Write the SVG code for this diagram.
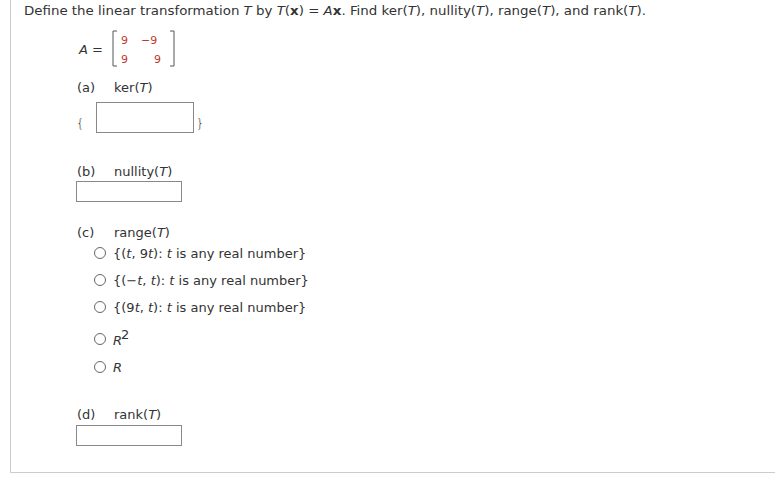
<svg xmlns="http://www.w3.org/2000/svg" width="775" height="493" viewBox="0 0 775 493">
<style>
text{font-family:"DejaVu Sans",Verdana,sans-serif;font-size:13px;fill:#333}
.i{font-style:italic}
.b{font-weight:bold}
.m{fill:#c0392b;font-size:11px}
.box{fill:#fff;stroke:#888;stroke-width:1}
.rad{fill:#fff;stroke:#666;stroke-width:1}
.br{fill:none;stroke:#555;stroke-width:1}
</style>
<rect width="775" height="493" fill="#fff"/>
<path d="M10.5 0V472.5H775" fill="none" stroke="#ccc"/>
<g id="header"><text x="24" y="15" textLength="622" lengthAdjust="spacingAndGlyphs">Define the linear transformation <tspan class="i">T</tspan> by <tspan class="i">T</tspan>(<tspan class="b">x</tspan>) = <tspan class="i">A</tspan><tspan class="b">x</tspan>. Find ker(<tspan class="i">T</tspan>), nullity(<tspan class="i">T</tspan>), range(<tspan class="i">T</tspan>), and rank(<tspan class="i">T</tspan>).</text></g>
<g id="matrix">
<text x="79" y="54" font-size="12"><tspan class="i">A</tspan> =</text>
<path class="br" d="M117 31H113V66H117M170 31H174V66H170"/>
<text class="m" x="121" y="44">9</text><text class="m" x="141" y="44">−9</text>
<text class="m" x="121" y="63">9</text><text class="m" x="154" y="63">9</text>
</g>
<g id="a">
<text x="77" y="92">(a)</text><text x="114" y="92">ker(<tspan class="i">T</tspan>)</text>
<text x="76" y="128" font-size="30" font-weight="200" fill="#555">{</text>
<rect class="box" x="96.5" y="102.5" width="97" height="30"/>
<text x="196" y="128" font-size="30" font-weight="200" fill="#555">}</text>
</g>
<g id="b">
<text x="77" y="176">(b)</text><text x="114" y="176">nullity(<tspan class="i">T</tspan>)</text>
<rect class="box" x="76.5" y="181.5" width="105" height="20"/>
</g>
<g id="c">
<text x="77" y="237">(c)</text><text x="114" y="237">range(<tspan class="i">T</tspan>)</text>
<circle class="rad" cx="100" cy="253" r="5.5"/><text x="113" y="258">{(<tspan class="i">t</tspan>, 9<tspan class="i">t</tspan>): <tspan class="i">t</tspan> is any real number}</text>
<circle class="rad" cx="100" cy="280" r="5.5"/><text x="113" y="285">{(−<tspan class="i">t</tspan>, <tspan class="i">t</tspan>): <tspan class="i">t</tspan> is any real number}</text>
<circle class="rad" cx="100" cy="307" r="5.5"/><text x="113" y="312">{(9<tspan class="i">t</tspan>, <tspan class="i">t</tspan>): <tspan class="i">t</tspan> is any real number}</text>
<circle class="rad" cx="100" cy="339" r="5.5"/><text x="113" y="345" class="i" font-size="12">R</text><text x="121" y="339" font-size="10">2</text>
<circle class="rad" cx="100" cy="367" r="5.5"/><text x="113" y="372" class="i" font-size="12">R</text>
</g>
<g id="d">
<text x="77" y="419">(d)</text><text x="114" y="419">rank(<tspan class="i">T</tspan>)</text>
<rect class="box" x="76.5" y="425.5" width="105" height="20"/>
</g>
</svg>
